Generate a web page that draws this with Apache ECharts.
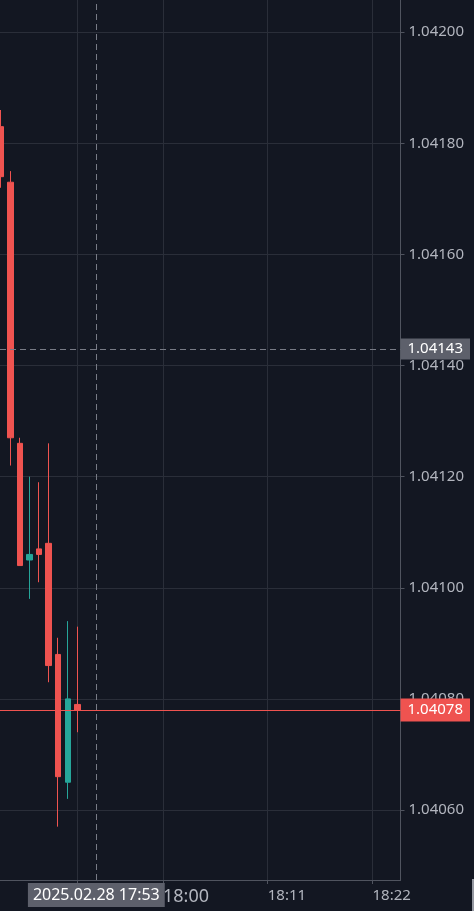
<!DOCTYPE html>
<html>
<head>
<meta charset="utf-8">
<script src="https://cdn.jsdelivr.net/npm/echarts@6/dist/echarts.min.js"></script>
<style>
  html, body { margin: 0; padding: 0; background: #131722; }
  #chart { width: 474px; height: 911px; }
</style>
</head>
<body>
<div id="chart"></div>
<script>
var color = [
  '#131722',   // background
  '#ef5350',   // bearish candle / last price
  '#26a69a',   // bullish candle
  '#2a2e39',   // grid lines
  '#50545f',   // axis line
  '#b2b5be',   // axis labels
  '#787b86',   // crosshair line
  '#5d606b',   // crosshair label bg
  '#ffffff'    // label text
];

// 1-minute candles, 2025.02.28
var times  = ['17:43', '17:44', '17:45', '17:46', '17:47', '17:48', '17:49', '17:50', '17:51'];
var opens  = [1.04183, 1.04173, 1.04126, 1.04105, 1.04107, 1.04108, 1.04088, 1.04065, 1.04079];
var closes = [1.04174, 1.04127, 1.04104, 1.04106, 1.04106, 1.04086, 1.04066, 1.04080, 1.04078];
var lows   = [1.04172, 1.04122, 1.04104, 1.04098, 1.04101, 1.04083, 1.04057, 1.04062, 1.04074];
var highs  = [1.04186, 1.04175, 1.04127, 1.04120, 1.04119, 1.04126, 1.04091, 1.04094, 1.04093];

// axis ticks
var xTicks = ['17:51', '18:00', '18:11', '18:22'];
var yTicks = [1.04060, 1.04080, 1.04100, 1.04120, 1.04140, 1.04160, 1.04180, 1.04200];

// crosshair and current price
var crossDate  = '2025.02.28';
var crossTime  = '17:53';
var crossPrice = 1.04143;
var lastPrice  = 1.04078;

var yMin = 1.040474, yMax = 1.042058;

function toMin(s){
  var p = s.split(':');
  return +p[0] * 60 + +p[1];
}
function fmtMin(v){
  var h = Math.floor(v / 60), m = Math.round(v - h * 60);
  return (h < 10 ? '0' : '') + h + ':' + (m < 10 ? '0' : '') + m;
}

function candleData(){
  var res = [];
  for (var i = 0; i < times.length; i++)
    res.push([toMin(times[i]), opens[i], closes[i], lows[i], highs[i]]);
  return res;
}

var font = 'Noto Sans';
var chart = echarts.init(document.getElementById('chart'));
chart.setOption({
  animation: false,
  backgroundColor: color[0],
  grid: { left: 0, right: 73.5, top: 0, bottom: 31 },
  xAxis: {
    type: 'value',
    min: 1062.884, max: 1104.94,
    axisLine: { show: true, lineStyle: { color: color[4] } },
    axisTick: { show: true, length: 4, customValues: xTicks.map(toMin), lineStyle: { color: color[4] } },
    axisLabel: {
      customValues: xTicks.map(toMin),
      align: 'left',
      margin: 8,
      color: color[5],
      fontFamily: font,
      fontSize: 15,
      formatter: function(v){
        var s = fmtMin(v);
        return v % 60 === 0 ? '{big|' + s + '}' : s;
      },
      rich: { big: { fontSize: 18, fontFamily: font, color: color[5] } }
    },
    splitLine: { show: true, lineStyle: { color: color[3] } },
    axisPointer: {
      show: true, status: 'show', value: toMin(crossTime),
      type: 'line',
      lineStyle: { color: color[6], type: [6, 4], width: 1 },
      label: {
        show: true, margin: 3,
        formatter: function(){ return crossDate + ' ' + crossTime; },
        backgroundColor: color[7], color: color[8],
        fontFamily: font, fontSize: 16,
        padding: [4, 5, 4, 5], borderRadius: 0
      }
    }
  },
  yAxis: [{
    type: 'value',
    position: 'right',
    min: yMin, max: yMax,
    axisLine: { show: true, lineStyle: { color: color[4] } },
    axisTick: { show: true, length: 4, customValues: yTicks, lineStyle: { color: color[4] } },
    axisLabel: {
      customValues: yTicks,
      margin: 8,
      color: color[5],
      fontFamily: font,
      fontSize: 15,
      formatter: function(v){ return v.toFixed(5); }
    },
    splitLine: { show: true, lineStyle: { color: color[3] } },
    axisPointer: {
      show: true, status: 'show', value: crossPrice,
      type: 'line',
      lineStyle: { color: color[6], type: [6, 4], width: 1 },
      label: {
        show: true, margin: 0,
        formatter: function(p){ return p.value.toFixed(5); },
        backgroundColor: color[7], color: color[8],
        fontFamily: font, fontSize: 15,
        padding: [3, 7, 3, 7], borderRadius: 0
      }
    }
  }, {
    // twin price scale, only for the current price line
    type: 'value',
    position: 'right',
    min: yMin, max: yMax,
    axisLine: { show: false },
    axisTick: { show: false },
    axisLabel: { show: false },
    splitLine: { show: false },
    axisPointer: {
      show: true, status: 'show', value: lastPrice,
      type: 'line',
      lineStyle: { color: color[1], type: 'solid', width: 1 },
      label: {
        show: true, margin: 0,
        formatter: function(p){ return p.value.toFixed(5); },
        backgroundColor: color[1], color: color[8],
        fontFamily: font, fontSize: 15,
        padding: [4, 7, 4, 7], borderRadius: 0
      }
    }
  }],
  graphic: [{
    type: 'rect', right: 0, bottom: 0,
    shape: { width: 2, height: 32 },
    style: { fill: '#9598a1' }
  }],
  series: [{
    type: 'candlestick',
    barWidth: 6,
    encode: { x: 0, y: [1, 2, 3, 4] },
    itemStyle: {
      color: color[2], color0: color[1],
      borderColor: color[2], borderColor0: color[1],
      borderWidth: 1
    },
    data: candleData()
  }]
});
</script>
</body>
</html>
